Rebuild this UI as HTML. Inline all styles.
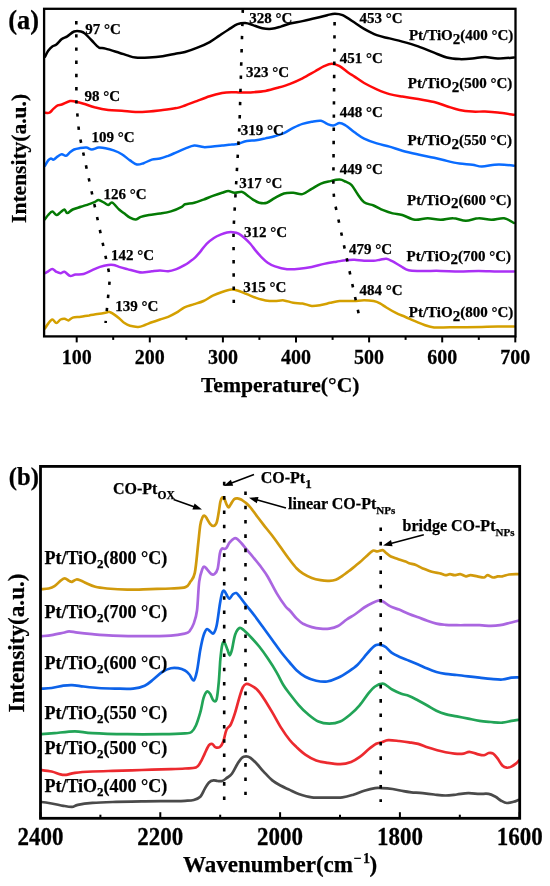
<!DOCTYPE html>
<html><head><meta charset="utf-8"><style>
html,body{margin:0;padding:0;background:#fff;}
svg{display:block;will-change:transform;}
text{font-family:"Liberation Serif",serif;font-weight:bold;fill:#000;stroke:#000;stroke-width:0.25px;}
</style></head><body>
<svg width="550" height="886" viewBox="0 0 550 886">
<rect width="550" height="886" fill="#fff"/>
<text x="8.2" y="28.7" font-size="26.4" text-anchor="start" >(a)</text>
<path d="M44.9,56.8 C45.5,55.8 47.0,52.5 48.2,50.8 C49.4,49.1 50.9,47.5 52.3,46.5 C53.7,45.5 54.8,45.7 56.4,44.5 C58.0,43.3 60.0,40.5 61.8,39.1 C63.6,37.8 65.2,37.7 67.3,36.4 C69.3,35.1 71.8,32.3 74.1,31.5 C76.4,30.7 79.1,31.1 80.9,31.5 C82.7,31.9 83.2,32.1 85.0,33.6 C86.8,35.1 89.5,38.2 91.8,40.5 C94.1,42.8 96.3,45.9 98.6,47.3 C100.9,48.6 102.1,47.7 105.5,48.6 C108.9,49.5 115.5,51.6 119.1,52.7 C122.7,53.8 124.6,54.6 127.3,55.4 C130.0,56.2 131.9,57.2 135.5,57.6 C139.1,58.0 144.6,57.8 149.1,57.6 C153.6,57.4 158.1,57.0 162.7,56.3 C167.2,55.6 172.7,54.2 176.4,53.5 C180.1,52.8 181.5,53.0 185.0,52.0 C188.5,51.0 193.3,49.4 197.4,47.7 C201.5,46.1 206.1,44.1 209.7,42.1 C213.3,40.1 215.9,38.0 219.0,35.9 C222.1,33.8 225.2,31.6 228.3,29.7 C231.4,27.8 234.7,25.3 237.5,24.2 C240.3,23.1 242.7,22.8 245.3,22.9 C247.9,23.0 250.2,24.2 253.0,25.1 C255.8,26.0 259.2,27.6 262.3,28.2 C265.4,28.8 268.5,29.1 271.6,28.8 C274.7,28.5 277.7,27.5 280.8,26.6 C283.9,25.7 286.5,24.4 290.1,23.5 C293.7,22.6 298.4,22.0 302.5,21.1 C306.6,20.2 310.7,19.3 314.8,18.3 C318.9,17.3 323.9,16.0 327.2,15.2 C330.5,14.4 332.3,13.7 334.9,13.7 C337.5,13.7 339.3,13.7 342.6,15.2 C345.9,16.7 350.9,20.2 354.5,22.5 C358.1,24.8 360.4,26.8 364.1,28.9 C367.8,31.0 372.6,33.6 376.8,35.2 C381.0,36.8 385.2,37.3 389.5,38.4 C393.8,39.5 397.5,40.3 402.3,41.6 C407.1,42.9 412.9,44.5 418.2,46.4 C423.5,48.2 429.3,50.9 434.1,52.7 C438.9,54.6 442.6,56.4 446.8,57.5 C451.0,58.6 455.2,58.9 459.5,59.1 C463.8,59.3 468.1,58.9 472.3,58.5 C476.6,58.1 480.8,56.9 485.0,56.9 C489.2,56.9 492.9,58.4 497.7,58.5 C502.5,58.6 511.3,57.7 514.0,57.5" fill="none" stroke="#000000" stroke-width="2.5" stroke-linejoin="round" stroke-linecap="round"/>
<path d="M44.9,112.7 C45.7,112.7 48.0,113.4 49.5,112.7 C51.0,112.0 52.2,109.8 53.6,108.6 C55.0,107.4 56.3,106.1 57.7,105.4 C59.1,104.7 59.8,105.2 61.8,104.5 C63.8,103.8 67.7,101.5 70.0,101.0 C72.3,100.5 73.2,101.3 75.5,101.8 C77.8,102.2 80.4,102.8 83.6,103.7 C86.8,104.6 90.4,106.2 94.5,107.3 C98.6,108.3 103.7,109.4 108.2,110.0 C112.8,110.6 117.2,110.5 121.8,110.8 C126.3,111.1 130.9,111.8 135.5,111.9 C140.1,112.0 144.6,111.7 149.1,111.4 C153.6,111.1 158.1,110.5 162.7,110.0 C167.2,109.5 172.7,108.8 176.4,108.1 C180.1,107.3 181.5,106.7 185.0,105.5 C188.5,104.3 193.3,102.3 197.4,100.8 C201.5,99.2 205.6,97.5 209.7,96.2 C213.8,94.9 218.5,93.8 222.1,93.1 C225.7,92.4 228.3,92.3 231.4,92.2 C234.5,92.1 237.0,92.5 240.6,92.5 C244.2,92.5 248.9,92.5 253.0,92.2 C257.1,91.9 261.3,91.6 265.4,90.9 C269.5,90.2 273.6,89.0 277.7,87.8 C281.8,86.6 286.0,85.4 290.1,83.8 C294.2,82.2 298.4,80.3 302.5,78.3 C306.6,76.2 311.2,73.5 314.8,71.5 C318.4,69.5 321.3,67.5 324.1,66.2 C326.9,64.9 329.2,63.7 331.8,63.7 C334.4,63.7 336.8,64.7 339.6,66.2 C342.4,67.8 346.3,71.3 348.8,73.0 C351.3,74.7 351.9,74.9 354.5,76.6 C357.1,78.3 360.4,80.9 364.1,83.0 C367.8,85.1 372.6,87.5 376.8,89.3 C381.0,91.1 385.2,92.9 389.5,94.1 C393.8,95.3 397.5,95.8 402.3,96.6 C407.1,97.4 412.9,98.0 418.2,98.9 C423.5,99.8 429.3,100.8 434.1,102.0 C438.9,103.2 442.6,104.9 446.8,106.2 C451.0,107.5 455.2,109.1 459.5,110.0 C463.8,110.9 468.1,111.3 472.3,111.6 C476.6,111.9 480.8,111.4 485.0,111.6 C489.2,111.8 492.9,112.0 497.7,112.5 C502.5,113.0 511.3,114.4 514.0,114.8" fill="none" stroke="#ff0a0a" stroke-width="2.5" stroke-linejoin="round" stroke-linecap="round"/>
<path d="M44.9,165.9 C45.5,165.0 47.2,161.6 48.2,160.4 C49.2,159.2 50.0,158.6 50.9,158.5 C51.8,158.4 52.5,159.9 53.6,159.6 C54.7,159.2 56.3,157.3 57.7,156.4 C59.1,155.5 60.4,154.3 61.8,154.2 C63.2,154.1 64.5,156.1 65.9,155.8 C67.3,155.5 68.6,153.4 70.0,152.3 C71.4,151.2 72.5,150.2 74.1,149.5 C75.7,148.8 77.5,148.5 79.5,148.2 C81.5,147.9 84.4,147.4 86.4,147.6 C88.5,147.8 89.8,149.5 91.8,149.5 C93.8,149.5 96.3,147.8 98.6,147.6 C100.9,147.4 103.0,147.7 105.5,148.2 C108.0,148.7 110.9,149.4 113.6,150.4 C116.3,151.4 119.1,152.5 121.8,154.2 C124.5,155.9 127.5,158.7 130.0,160.4 C132.5,162.1 134.5,164.0 136.8,164.5 C139.1,165.0 141.1,164.0 143.6,163.2 C146.1,162.4 149.1,160.4 151.8,159.6 C154.5,158.8 157.3,159.1 160.0,158.5 C162.7,157.9 165.5,156.8 168.2,155.8 C170.9,154.8 173.6,153.5 176.4,152.3 C179.2,151.1 182.0,149.7 185.0,148.6 C188.0,147.5 191.2,145.8 194.3,145.5 C197.4,145.2 200.4,146.9 203.5,147.1 C206.6,147.3 209.7,146.8 212.8,146.5 C215.9,146.2 219.0,145.8 222.1,145.5 C225.2,145.2 228.8,144.8 231.4,144.6 C234.0,144.3 234.9,144.6 237.5,144.0 C240.1,143.4 243.7,141.5 246.8,140.9 C249.9,140.3 253.0,140.7 256.1,140.3 C259.2,139.9 262.3,139.1 265.4,138.4 C268.5,137.7 271.5,137.2 274.6,136.3 C277.7,135.4 280.8,134.6 283.9,133.2 C287.0,131.8 290.1,129.4 293.2,127.9 C296.3,126.4 299.4,124.9 302.5,123.9 C305.6,122.9 308.6,122.2 311.7,121.7 C314.8,121.2 318.4,120.4 321.0,120.8 C323.6,121.2 325.1,123.1 327.2,123.9 C329.3,124.7 331.3,125.7 333.4,125.5 C335.5,125.3 337.6,123.0 339.6,123.0 C341.7,123.0 343.2,124.0 345.7,125.5 C348.2,127.0 351.4,130.1 354.5,132.3 C357.6,134.5 360.4,136.8 364.1,138.6 C367.8,140.4 372.6,142.1 376.8,143.4 C381.0,144.7 385.2,145.4 389.5,146.6 C393.8,147.8 397.5,149.4 402.3,150.7 C407.1,152.0 412.9,153.3 418.2,154.5 C423.5,155.7 429.3,156.6 434.1,157.7 C438.9,158.8 442.6,159.9 446.8,160.9 C451.0,161.9 455.2,162.9 459.5,163.5 C463.8,164.1 468.6,164.2 472.3,164.7 C476.0,165.2 478.1,166.6 481.8,166.6 C485.5,166.6 490.8,165.0 494.5,164.7 C498.2,164.4 500.9,164.5 504.1,164.7 C507.4,164.9 512.4,165.5 514.0,165.7" fill="none" stroke="#0a6cff" stroke-width="2.5" stroke-linejoin="round" stroke-linecap="round"/>
<path d="M44.9,219.1 C45.5,218.4 47.0,216.3 48.2,215.0 C49.4,213.7 50.9,211.4 52.3,211.4 C53.7,211.4 55.0,214.8 56.4,215.0 C57.8,215.2 59.1,213.2 60.5,212.3 C61.9,211.4 63.4,209.4 64.5,209.5 C65.6,209.6 65.9,213.1 67.3,213.1 C68.7,213.1 70.4,210.6 72.7,209.5 C75.0,208.4 78.2,207.7 80.9,206.8 C83.6,205.9 86.8,204.9 89.1,204.1 C91.4,203.3 92.9,202.9 94.5,202.2 C96.1,201.5 97.0,199.9 98.6,200.0 C100.2,200.1 102.5,201.9 104.1,202.7 C105.7,203.5 106.8,204.9 108.2,204.9 C109.6,204.9 110.5,201.9 112.3,202.7 C114.1,203.5 117.1,207.7 119.1,209.5 C121.1,211.3 122.7,212.2 124.5,213.6 C126.3,215.0 128.2,216.7 130.0,217.7 C131.8,218.7 133.7,219.7 135.5,219.6 C137.3,219.5 138.6,217.7 140.9,216.9 C143.2,216.1 145.9,215.6 149.1,215.0 C152.3,214.4 156.4,214.2 160.0,213.6 C163.6,213.0 167.3,212.5 170.9,211.4 C174.5,210.3 179.5,208.0 181.8,206.8 C184.2,205.6 182.9,205.0 185.0,204.3 C187.1,203.6 191.2,203.5 194.3,202.7 C197.4,201.9 200.4,200.7 203.5,199.6 C206.6,198.5 209.7,197.0 212.8,195.9 C215.9,194.8 219.5,193.6 222.1,192.8 C224.7,192.0 226.2,191.0 228.3,191.0 C230.4,191.0 232.2,192.7 234.5,192.8 C236.8,193.0 240.1,191.5 242.2,191.9 C244.2,192.3 245.0,193.7 246.8,195.0 C248.6,196.3 250.9,198.3 253.0,199.6 C255.1,200.9 256.9,202.2 259.2,202.7 C261.5,203.2 264.3,203.5 266.9,202.7 C269.5,201.9 271.8,199.6 274.6,198.1 C277.4,196.6 280.8,194.4 283.9,193.5 C287.0,192.6 290.1,192.7 293.2,192.8 C296.3,192.9 299.4,194.8 302.5,194.1 C305.6,193.4 308.6,190.6 311.7,188.8 C314.8,187.1 317.9,184.9 321.0,183.6 C324.1,182.3 327.2,181.8 330.3,181.1 C333.4,180.4 337.0,179.5 339.6,179.6 C342.2,179.7 343.7,180.8 345.7,181.7 C347.7,182.6 349.4,182.7 351.4,184.8 C353.4,186.9 355.6,191.4 357.7,194.3 C359.8,197.2 361.5,200.4 364.1,202.3 C366.8,204.2 370.4,204.2 373.6,205.5 C376.8,206.8 380.0,208.9 383.2,210.2 C386.4,211.5 389.5,212.6 392.7,213.4 C395.9,214.2 398.6,213.9 402.3,215.0 C406.0,216.1 410.8,219.3 415.0,219.8 C419.2,220.3 423.4,218.2 427.7,218.2 C431.9,218.2 436.2,219.8 440.5,219.8 C444.8,219.8 449.0,218.0 453.2,218.2 C457.4,218.3 461.7,220.7 465.9,220.7 C470.1,220.7 474.4,218.3 478.6,218.2 C482.9,218.0 487.1,219.8 491.4,219.8 C495.6,219.8 500.3,217.7 504.1,218.2 C507.9,218.7 512.4,222.2 514.0,223.0" fill="none" stroke="#047a04" stroke-width="2.5" stroke-linejoin="round" stroke-linecap="round"/>
<path d="M44.9,273.2 C45.5,272.9 47.0,272.0 48.2,271.3 C49.4,270.6 50.9,269.0 52.3,269.1 C53.7,269.2 55.0,271.1 56.4,271.8 C57.8,272.5 59.1,273.2 60.5,273.2 C61.9,273.2 62.9,271.4 64.5,271.8 C66.1,272.2 68.2,275.4 70.0,275.9 C71.8,276.3 73.2,274.8 75.5,274.5 C77.8,274.2 80.9,274.7 83.6,274.0 C86.3,273.3 89.1,271.6 91.8,270.4 C94.5,269.2 97.3,267.8 100.0,266.9 C102.7,266.0 105.9,265.3 108.2,265.0 C110.5,264.7 111.8,264.7 113.6,265.0 C115.4,265.3 116.8,266.2 119.1,266.9 C121.4,267.6 124.6,268.4 127.3,269.1 C130.0,269.8 133.0,270.7 135.5,271.3 C138.0,271.9 139.6,272.6 142.3,272.6 C145.0,272.6 148.9,271.7 151.8,271.3 C154.8,270.9 157.3,270.4 160.0,270.4 C162.7,270.4 165.5,271.5 168.2,271.3 C170.9,271.1 173.7,270.1 176.4,269.1 C179.1,268.1 182.2,266.5 184.5,265.2 C186.8,263.9 188.2,262.8 190.0,261.5 C191.8,260.2 193.2,259.3 195.0,257.6 C196.8,255.9 198.9,253.4 200.8,251.1 C202.7,248.8 204.4,246.0 206.6,243.8 C208.8,241.6 211.5,239.6 213.9,238.0 C216.3,236.4 219.0,235.3 221.2,234.4 C223.4,233.5 225.1,232.9 227.0,232.5 C228.9,232.1 230.9,232.0 232.8,232.2 C234.7,232.4 236.7,232.6 238.6,233.6 C240.5,234.6 242.6,236.3 244.5,238.0 C246.4,239.7 248.4,241.6 250.3,243.8 C252.2,246.0 254.2,248.8 256.1,251.1 C258.0,253.4 260.0,255.7 261.9,257.6 C263.8,259.5 265.5,261.2 267.7,262.7 C269.9,264.2 271.8,265.3 275.0,266.4 C278.2,267.5 282.9,268.8 287.0,269.2 C291.1,269.6 295.3,269.2 299.4,268.8 C303.5,268.4 307.6,267.8 311.7,267.0 C315.8,266.2 320.0,264.8 324.1,263.9 C328.2,263.0 332.9,262.3 336.5,261.7 C340.1,261.1 342.7,260.5 345.7,260.2 C348.7,259.9 351.4,259.7 354.5,259.8 C357.6,259.9 360.9,260.6 364.1,260.7 C367.3,260.8 371.0,260.8 373.6,260.7 C376.2,260.6 377.9,260.1 380.0,259.8 C382.1,259.5 384.3,258.5 386.4,258.8 C388.5,259.1 390.3,260.2 392.7,261.4 C395.1,262.6 398.0,264.6 400.7,266.1 C403.4,267.6 405.2,269.5 408.6,270.3 C412.1,271.1 416.1,270.8 421.4,270.9 C426.7,271.0 434.1,270.8 440.5,270.9 C446.9,271.0 453.1,271.5 459.5,271.5 C465.9,271.5 472.2,270.9 478.6,270.9 C485.0,270.9 491.8,271.4 497.7,271.5 C503.6,271.6 511.3,271.5 514.0,271.5" fill="none" stroke="#aa30f5" stroke-width="2.5" stroke-linejoin="round" stroke-linecap="round"/>
<path d="M44.9,328.5 C45.5,327.7 47.0,325.1 48.2,323.6 C49.4,322.1 50.9,319.6 52.3,319.5 C53.7,319.4 55.0,323.1 56.4,323.1 C57.8,323.1 59.1,320.2 60.5,319.5 C61.9,318.8 63.1,318.6 64.5,318.7 C65.8,318.8 67.2,320.6 68.6,320.4 C70.0,320.2 70.7,318.2 72.7,317.6 C74.8,317.0 78.2,317.2 80.9,316.8 C83.6,316.4 86.4,315.8 89.1,315.4 C91.8,314.9 94.6,314.6 97.3,314.1 C100.0,313.7 103.5,313.1 105.5,312.7 C107.5,312.3 108.2,311.7 109.5,311.9 C110.8,312.1 112.0,313.1 113.6,314.1 C115.2,315.2 117.3,316.7 119.1,318.2 C120.9,319.7 122.7,321.8 124.5,323.1 C126.3,324.4 127.7,325.2 130.0,325.8 C132.3,326.4 135.7,327.0 138.2,326.9 C140.7,326.8 142.7,325.8 145.0,325.0 C147.3,324.2 149.3,323.2 151.8,322.3 C154.3,321.4 157.3,320.4 160.0,319.5 C162.7,318.6 165.5,317.9 168.2,316.8 C170.9,315.7 173.7,314.3 176.4,312.7 C179.1,311.1 181.5,308.7 184.5,307.3 C187.5,305.9 191.1,305.2 194.3,304.1 C197.5,303.1 200.4,302.4 203.5,301.0 C206.6,299.6 209.7,297.2 212.8,295.7 C215.9,294.2 219.0,293.0 222.1,292.0 C225.2,291.0 228.8,289.9 231.4,289.6 C234.0,289.4 234.9,289.7 237.5,290.5 C240.1,291.3 243.7,293.0 246.8,294.2 C249.9,295.4 253.0,296.9 256.1,297.9 C259.2,298.9 262.3,299.9 265.4,300.4 C268.5,300.9 271.5,301.0 274.6,301.0 C277.7,301.0 280.8,300.1 283.9,300.4 C287.0,300.7 290.1,302.3 293.2,302.8 C296.3,303.3 299.4,303.0 302.5,303.5 C305.6,304.0 308.6,305.6 311.7,305.9 C314.8,306.1 317.9,305.5 321.0,305.0 C324.1,304.5 327.2,303.5 330.3,302.8 C333.4,302.1 336.5,301.3 339.6,301.0 C342.7,300.7 346.3,301.0 348.8,301.0 C351.3,301.0 351.9,301.2 354.5,301.1 C357.1,301.0 360.9,300.2 364.1,300.2 C367.3,300.2 371.0,300.6 373.6,301.1 C376.2,301.6 377.9,302.3 380.0,303.4 C382.1,304.5 383.8,305.9 386.4,307.5 C389.0,309.1 392.7,311.3 395.9,312.9 C399.1,314.5 402.3,315.6 405.5,317.0 C408.7,318.4 411.8,319.9 415.0,321.2 C418.2,322.5 421.3,323.9 424.5,325.0 C427.7,326.1 429.9,327.1 434.1,327.5 C438.4,327.9 444.7,327.2 450.0,327.2 C455.3,327.1 460.6,327.2 465.9,327.2 C471.2,327.1 476.5,327.0 481.8,326.9 C487.1,326.8 492.3,326.7 497.7,326.6 C503.1,326.6 511.3,326.6 514.0,326.6" fill="none" stroke="#d4a000" stroke-width="2.5" stroke-linejoin="round" stroke-linecap="round"/>
<path d="M76.3,21.0 L76.4,104.0 L79.2,134.0 L110.0,277.0 L105.6,323.0" fill="none" stroke="#000" stroke-width="2.6" stroke-dasharray="3.4 9.8" stroke-dashoffset="0"/>
<path d="M242.8,9.5 L239.5,125.0 L233.5,230.0 L233.8,308.0" fill="none" stroke="#000" stroke-width="2.6" stroke-dasharray="3.4 9.8" stroke-dashoffset="0"/>
<path d="M334.6,22.0 L333.3,188.0 L334.2,200.0 L359.8,319.0" fill="none" stroke="#000" stroke-width="2.6" stroke-dasharray="3.4 9.8" stroke-dashoffset="0"/>
<rect x="44.1" y="8.8" width="471.4" height="327.6" fill="none" stroke="#000" stroke-width="2.3"/>
<line x1="76.7" y1="336.4" x2="76.7" y2="342.4" stroke="#000" stroke-width="2"/>
<text x="0.0" y="0.0" font-size="20" text-anchor="middle" transform="translate(76.7,364.2) scale(1,1.09)">100</text>
<line x1="149.8" y1="336.4" x2="149.8" y2="342.4" stroke="#000" stroke-width="2"/>
<text x="0.0" y="0.0" font-size="20" text-anchor="middle" transform="translate(149.8,364.2) scale(1,1.09)">200</text>
<line x1="222.9" y1="336.4" x2="222.9" y2="342.4" stroke="#000" stroke-width="2"/>
<text x="0.0" y="0.0" font-size="20" text-anchor="middle" transform="translate(222.9,364.2) scale(1,1.09)">300</text>
<line x1="296.0" y1="336.4" x2="296.0" y2="342.4" stroke="#000" stroke-width="2"/>
<text x="0.0" y="0.0" font-size="20" text-anchor="middle" transform="translate(296.0,364.2) scale(1,1.09)">400</text>
<line x1="369.1" y1="336.4" x2="369.1" y2="342.4" stroke="#000" stroke-width="2"/>
<text x="0.0" y="0.0" font-size="20" text-anchor="middle" transform="translate(369.1,364.2) scale(1,1.09)">500</text>
<line x1="442.2" y1="336.4" x2="442.2" y2="342.4" stroke="#000" stroke-width="2"/>
<text x="0.0" y="0.0" font-size="20" text-anchor="middle" transform="translate(442.2,364.2) scale(1,1.09)">600</text>
<line x1="515.3" y1="336.4" x2="515.3" y2="342.4" stroke="#000" stroke-width="2"/>
<text x="0.0" y="0.0" font-size="20" text-anchor="middle" transform="translate(515.3,364.2) scale(1,1.09)">700</text>
<line x1="113.2" y1="336.4" x2="113.2" y2="339.9" stroke="#000" stroke-width="2"/>
<line x1="186.3" y1="336.4" x2="186.3" y2="339.9" stroke="#000" stroke-width="2"/>
<line x1="259.4" y1="336.4" x2="259.4" y2="339.9" stroke="#000" stroke-width="2"/>
<line x1="332.6" y1="336.4" x2="332.6" y2="339.9" stroke="#000" stroke-width="2"/>
<line x1="405.6" y1="336.4" x2="405.6" y2="339.9" stroke="#000" stroke-width="2"/>
<line x1="478.8" y1="336.4" x2="478.8" y2="339.9" stroke="#000" stroke-width="2"/>
<text x="280.2" y="392.3" font-size="21.6" text-anchor="middle" >Temperature(°C)</text>
<text x="0.0" y="0.0" font-size="21.5" text-anchor="middle" transform="translate(26.0,158.4) rotate(-90)">Intensity(a.u.)</text>
<text x="85.2" y="34.1" font-size="15" text-anchor="start" >97 °C</text>
<text x="84.4" y="100.9" font-size="15" text-anchor="start" >98 °C</text>
<text x="91.5" y="141.9" font-size="15" text-anchor="start" >109 °C</text>
<text x="103.5" y="199.1" font-size="15" text-anchor="start" >126 °C</text>
<text x="111.1" y="259.5" font-size="15" text-anchor="start" >142 °C</text>
<text x="115.2" y="310.5" font-size="15" text-anchor="start" >139 °C</text>
<text x="249.2" y="22.5" font-size="15" text-anchor="start" >328 °C</text>
<text x="246.1" y="76.6" font-size="15" text-anchor="start" >323 °C</text>
<text x="240.8" y="134.6" font-size="15" text-anchor="start" >319 °C</text>
<text x="239.3" y="187.8" font-size="15" text-anchor="start" >317 °C</text>
<text x="243.9" y="236.6" font-size="15" text-anchor="start" >312 °C</text>
<text x="243.3" y="291.6" font-size="15" text-anchor="start" >315 °C</text>
<text x="359.5" y="23.0" font-size="15" text-anchor="start" >453 °C</text>
<text x="339.8" y="63.4" font-size="15" text-anchor="start" >451 °C</text>
<text x="339.8" y="117.0" font-size="15" text-anchor="start" >448 °C</text>
<text x="339.8" y="173.5" font-size="15" text-anchor="start" >449 °C</text>
<text x="349.0" y="253.9" font-size="15" text-anchor="start" >479 °C</text>
<text x="359.5" y="295.3" font-size="15" text-anchor="start" >484 °C</text>
<text x="408.9" y="39.9" font-size="15">Pt/TiO<tspan dy="3.6">2</tspan><tspan dy="-3.6">(400 °C)</tspan></text>
<text x="407.8" y="88.4" font-size="15">Pt/TiO<tspan dy="3.6">2</tspan><tspan dy="-3.6">(500 °C)</tspan></text>
<text x="407.6" y="145.0" font-size="15">Pt/TiO<tspan dy="3.6">2</tspan><tspan dy="-3.6">(550 °C)</tspan></text>
<text x="407.0" y="204.7" font-size="15">Pt/TiO<tspan dy="3.6">2</tspan><tspan dy="-3.6">(600 °C)</tspan></text>
<text x="406.6" y="260.7" font-size="15">Pt/TiO<tspan dy="3.6">2</tspan><tspan dy="-3.6">(700 °C)</tspan></text>
<text x="408.8" y="317.3" font-size="15">Pt/TiO<tspan dy="3.6">2</tspan><tspan dy="-3.6">(800 °C)</tspan></text>
<text x="8.8" y="484.5" font-size="24.6" text-anchor="start" >(b)</text>
<path d="M41.5,589.1 C42.7,589.0 46.5,589.0 48.7,588.5 C50.9,588.0 52.5,587.5 54.5,586.2 C56.5,584.9 58.7,582.2 60.4,580.9 C62.1,579.6 63.2,578.3 64.7,578.3 C66.2,578.3 67.9,580.3 69.1,580.9 C70.3,581.5 70.8,582.0 72.0,581.8 C73.2,581.6 75.0,579.7 76.4,579.5 C77.9,579.3 79.0,579.8 80.7,580.4 C82.4,581.0 84.1,582.2 86.5,583.3 C88.9,584.4 91.9,585.9 95.3,586.8 C98.7,587.7 101.6,588.0 106.9,588.5 C112.2,589.0 120.0,589.6 127.3,589.7 C134.6,589.8 143.2,589.3 150.5,589.1 C157.8,588.9 165.1,588.8 170.9,588.5 C176.7,588.2 182.2,588.2 185.5,587.1 C188.8,586.0 188.9,584.0 190.5,581.6 C192.1,579.2 193.5,579.1 194.8,572.9 C196.1,566.7 197.2,552.5 198.1,544.5 C199.0,536.5 199.6,529.4 200.3,524.9 C201.0,520.4 201.8,518.8 202.5,517.3 C203.2,515.8 203.9,515.5 204.6,515.7 C205.3,515.9 205.9,517.0 206.8,518.4 C207.7,519.8 209.0,522.5 210.1,523.8 C211.2,525.1 212.3,526.2 213.4,526.0 C214.5,525.8 215.7,525.1 216.6,522.7 C217.5,520.3 218.2,515.2 218.8,511.8 C219.4,508.4 219.8,504.4 220.3,502.0 C220.9,499.6 221.4,498.2 222.1,497.6 C222.8,497.1 223.6,497.6 224.3,498.7 C225.0,499.8 225.8,502.7 226.5,504.2 C227.2,505.7 227.9,507.5 228.6,507.5 C229.3,507.5 229.9,505.6 230.8,504.2 C231.7,502.8 233.0,500.2 234.1,499.2 C235.2,498.2 236.1,498.2 237.4,498.3 C238.7,498.4 240.2,499.0 241.7,499.8 C243.1,500.6 244.6,501.8 246.1,503.1 C247.6,504.4 248.7,505.3 250.5,507.5 C252.3,509.7 254.8,513.3 257.0,516.2 C259.2,519.1 261.1,521.6 263.6,524.9 C266.2,528.2 269.4,532.0 272.3,535.8 C275.2,539.6 278.1,543.8 281.0,547.8 C283.9,551.8 287.1,556.4 289.7,559.8 C292.3,563.2 294.3,565.9 296.5,568.2 C298.7,570.5 300.6,572.0 303.1,573.6 C305.7,575.2 308.9,576.9 311.8,578.0 C314.7,579.1 317.6,579.7 320.5,580.2 C323.4,580.7 326.8,580.9 329.3,580.8 C331.9,580.7 333.6,580.5 335.8,579.7 C338.0,578.9 339.8,577.5 342.4,575.8 C344.9,574.1 348.2,571.5 351.1,569.3 C354.0,567.0 357.2,564.5 359.8,562.3 C362.4,560.1 364.2,558.1 366.4,556.2 C368.6,554.3 371.1,551.5 372.9,550.7 C374.7,549.9 375.7,551.5 377.3,551.4 C378.9,551.3 381.2,549.9 382.7,550.1 C384.1,550.4 384.7,551.9 386.0,552.9 C387.3,553.9 388.2,555.1 390.4,556.2 C392.6,557.3 396.6,558.6 399.1,559.5 C401.6,560.4 403.9,561.0 405.6,561.6 C407.3,562.2 407.4,562.6 409.1,563.2 C410.8,563.8 413.6,564.1 415.9,565.0 C418.2,565.9 420.0,567.3 422.7,568.4 C425.4,569.5 428.8,570.9 431.8,571.8 C434.8,572.7 438.6,573.0 440.9,573.6 C443.2,574.2 444.0,575.1 445.5,575.2 C447.0,575.3 448.5,574.1 450.0,574.1 C451.5,574.1 452.8,575.2 454.5,575.2 C456.2,575.2 458.3,573.9 460.2,574.1 C462.1,574.3 464.2,576.2 465.9,576.4 C467.6,576.6 468.6,575.2 470.5,575.2 C472.4,575.2 475.0,576.0 477.3,576.4 C479.6,576.8 482.4,577.7 484.1,577.5 C485.8,577.3 486.0,575.2 487.5,575.2 C489.0,575.2 491.5,577.3 493.2,577.5 C494.9,577.7 496.2,576.6 497.7,576.4 C499.2,576.2 500.4,576.7 502.3,576.4 C504.2,576.1 506.5,574.9 509.1,574.5 C511.8,574.1 516.7,574.2 518.2,574.1" fill="none" stroke="#d19a0c" stroke-width="2.7" stroke-linejoin="round" stroke-linecap="round"/>
<path d="M41.5,636.2 C43.2,636.0 48.0,635.7 51.6,635.1 C55.2,634.5 60.4,633.3 63.3,632.7 C66.2,632.1 66.7,631.3 69.1,631.3 C71.5,631.3 73.9,632.2 77.8,632.7 C81.7,633.2 86.6,633.7 92.4,634.2 C98.2,634.7 104.5,635.3 112.7,635.6 C120.9,635.9 132.1,636.2 141.8,636.2 C151.5,636.2 163.7,636.1 170.9,635.6 C178.1,635.1 181.9,634.2 185.0,633.5 C188.1,632.8 188.0,632.9 189.4,631.3 C190.8,629.6 192.4,627.1 193.7,623.6 C195.0,620.1 196.1,617.5 197.0,610.5 C197.9,603.5 198.3,588.6 199.2,581.6 C200.1,574.6 201.6,571.1 202.5,568.6 C203.4,566.1 203.9,566.7 204.6,566.8 C205.3,566.9 205.7,567.8 206.8,569.0 C207.9,570.2 209.9,573.2 211.2,574.0 C212.5,574.8 213.4,574.9 214.5,574.0 C215.6,573.1 216.8,572.1 217.7,568.6 C218.6,565.1 219.2,556.6 219.9,553.3 C220.6,549.9 221.4,549.2 222.1,548.5 C222.8,547.8 223.6,549.0 224.3,548.9 C225.0,548.8 225.6,548.9 226.5,547.8 C227.4,546.7 228.4,544.0 229.7,542.4 C231.0,540.8 232.8,538.9 234.1,538.4 C235.4,537.9 236.1,538.2 237.4,539.1 C238.7,540.0 240.2,541.9 241.7,543.5 C243.1,545.1 244.3,546.7 246.1,548.9 C247.9,551.1 250.1,553.4 252.6,556.5 C255.1,559.6 258.8,564.1 261.4,567.5 C263.9,570.9 265.4,572.7 267.9,577.0 C270.4,581.3 273.7,588.2 276.6,593.1 C279.5,598.0 283.2,603.3 285.4,606.2 C287.6,609.1 288.1,608.7 290.0,610.7 C291.9,612.7 294.3,616.2 296.5,618.4 C298.7,620.6 300.6,622.3 303.1,623.8 C305.7,625.2 308.9,626.3 311.8,627.1 C314.7,627.9 317.6,628.4 320.5,628.6 C323.4,628.9 326.4,629.0 329.3,628.6 C332.2,628.2 335.1,627.5 338.0,626.0 C340.9,624.5 343.8,621.5 346.7,619.5 C349.6,617.5 352.6,616.0 355.5,614.0 C358.4,612.0 361.3,609.4 364.2,607.5 C367.1,605.6 370.3,603.9 372.9,602.7 C375.4,601.5 377.7,600.4 379.5,600.3 C381.3,600.2 382.0,601.0 383.8,602.0 C385.6,603.0 387.8,605.1 390.4,606.4 C392.9,607.7 396.0,608.4 399.1,609.6 C402.2,610.9 405.9,612.6 409.1,613.9 C412.3,615.2 415.2,616.2 418.2,617.3 C421.2,618.4 424.3,619.7 427.3,620.7 C430.3,621.8 433.4,622.9 436.4,623.6 C439.4,624.3 442.1,624.5 445.5,624.8 C448.9,625.1 453.0,625.1 456.8,625.2 C460.6,625.3 464.4,625.2 468.2,625.2 C472.0,625.2 475.7,625.1 479.5,625.2 C483.3,625.3 487.5,625.9 490.9,625.9 C494.3,625.9 497.0,625.7 500.0,625.2 C503.0,624.7 506.1,623.8 509.1,623.0 C512.1,622.2 516.7,621.1 518.2,620.7" fill="none" stroke="#aa66e0" stroke-width="2.7" stroke-linejoin="round" stroke-linecap="round"/>
<path d="M41.5,688.6 C43.2,688.5 48.0,688.5 51.6,688.0 C55.2,687.5 59.9,686.2 63.3,685.7 C66.7,685.2 68.6,685.0 72.0,685.1 C75.4,685.2 79.2,686.0 83.6,686.5 C88.0,687.0 92.9,687.6 98.2,688.0 C103.5,688.4 109.8,688.5 115.6,688.6 C121.4,688.7 128.2,689.1 133.1,688.6 C137.9,688.1 141.3,687.2 144.7,685.7 C148.1,684.2 150.6,681.6 153.5,679.3 C156.4,677.0 159.3,673.9 162.2,672.0 C165.1,670.1 168.2,668.8 170.9,668.2 C173.6,667.6 175.8,667.8 178.2,668.2 C180.5,668.6 183.1,669.5 185.0,670.5 C186.9,671.5 188.0,672.8 189.4,674.5 C190.8,676.2 192.4,681.1 193.7,680.5 C195.0,679.9 195.9,676.0 197.0,670.9 C198.1,665.8 199.2,655.7 200.3,649.8 C201.4,643.9 202.4,639.0 203.5,635.6 C204.6,632.2 205.7,629.8 206.8,629.1 C207.9,628.4 209.0,630.6 210.1,631.3 C211.2,632.0 212.3,634.4 213.4,633.5 C214.5,632.6 215.5,630.7 216.6,625.8 C217.7,620.9 219.0,609.5 219.9,604.0 C220.8,598.5 221.4,595.3 222.1,593.1 C222.8,590.9 223.4,590.4 224.3,590.9 C225.2,591.4 226.6,595.1 227.5,596.4 C228.4,597.7 228.8,598.9 229.7,598.5 C230.6,598.1 231.9,595.1 233.0,594.2 C234.1,593.3 235.2,592.7 236.3,593.1 C237.4,593.5 237.9,594.4 239.5,596.4 C241.1,598.4 243.5,601.8 246.1,605.1 C248.7,608.4 251.9,612.2 254.8,616.0 C257.7,619.8 260.7,624.0 263.6,628.0 C266.5,632.0 269.4,636.0 272.3,640.0 C275.2,644.0 278.1,648.2 281.0,652.0 C283.9,655.8 287.1,659.5 289.7,662.5 C292.3,665.5 293.9,667.8 296.5,670.2 C299.1,672.6 302.0,675.0 305.3,676.7 C308.6,678.5 312.6,679.9 316.2,680.7 C319.8,681.5 323.5,682.0 327.1,681.5 C330.7,681.0 334.4,679.5 338.0,677.8 C341.6,676.1 345.6,673.5 348.9,671.3 C352.2,669.1 355.1,667.1 357.6,664.7 C360.2,662.3 362.0,659.6 364.2,657.1 C366.4,654.6 368.7,651.5 370.7,649.5 C372.7,647.5 374.4,645.8 376.2,645.1 C378.0,644.4 380.0,644.7 381.6,645.1 C383.2,645.5 384.4,646.0 386.0,647.3 C387.6,648.6 389.3,651.1 391.5,652.7 C393.7,654.3 396.2,655.4 399.1,656.7 C402.0,658.0 405.9,659.4 409.1,660.7 C412.3,662.0 415.2,663.2 418.2,664.5 C421.2,665.8 424.3,667.4 427.3,668.6 C430.3,669.9 433.4,671.1 436.4,672.0 C439.4,672.9 442.1,673.4 445.5,673.9 C448.9,674.4 453.0,674.6 456.8,675.0 C460.6,675.4 464.4,675.9 468.2,676.4 C472.0,676.9 475.7,677.3 479.5,677.7 C483.3,678.1 487.1,678.6 490.9,678.9 C494.7,679.2 498.9,679.7 502.3,679.5 C505.7,679.3 508.8,678.1 511.4,677.7 C514.0,677.3 517.1,677.4 518.2,677.3" fill="none" stroke="#0d62e8" stroke-width="2.7" stroke-linejoin="round" stroke-linecap="round"/>
<path d="M41.5,734.2 C43.7,734.0 48.9,733.6 54.5,733.1 C60.1,732.6 68.6,731.3 74.9,731.3 C81.2,731.3 83.7,732.6 92.4,733.1 C101.1,733.6 115.7,734.0 127.3,734.2 C138.9,734.4 152.6,734.3 162.2,734.2 C171.8,734.1 180.1,733.8 185.0,733.4 C189.9,733.0 189.7,733.3 191.5,732.0 C193.3,730.7 194.4,728.8 195.9,725.5 C197.4,722.2 199.0,716.9 200.3,712.4 C201.6,707.9 202.4,701.7 203.5,698.2 C204.6,694.7 205.7,692.3 206.8,691.6 C207.9,690.9 209.0,692.3 210.1,693.8 C211.2,695.3 212.3,699.5 213.4,700.4 C214.5,701.3 215.7,702.4 216.6,699.3 C217.5,696.2 218.2,688.3 218.8,681.8 C219.4,675.2 219.8,666.0 220.3,660.0 C220.9,654.0 221.4,648.5 222.1,645.5 C222.8,642.5 223.4,641.5 224.3,642.2 C225.2,642.9 226.6,647.6 227.5,649.8 C228.4,652.0 229.0,655.3 229.7,655.3 C230.4,655.3 231.0,653.3 231.9,649.8 C232.8,646.3 233.9,638.1 235.2,634.5 C236.5,630.9 238.1,628.7 239.5,628.0 C240.9,627.3 242.1,628.8 243.9,630.2 C245.7,631.7 247.9,634.0 250.5,636.7 C253.1,639.4 256.3,642.9 259.2,646.5 C262.1,650.1 265.0,654.2 267.9,658.5 C270.8,662.8 274.1,667.9 276.6,672.3 C279.2,676.7 281.0,681.1 283.2,684.7 C285.4,688.4 287.4,690.8 290.0,694.2 C292.6,697.6 295.8,701.8 298.7,705.1 C301.6,708.4 304.2,711.1 307.5,713.8 C310.8,716.5 314.8,719.9 318.4,721.5 C322.0,723.1 325.7,723.6 329.3,723.6 C332.9,723.6 336.6,723.1 340.2,721.5 C343.8,719.9 347.8,716.5 351.1,713.8 C354.4,711.1 356.9,708.5 359.8,705.1 C362.7,701.7 366.1,696.2 368.6,693.1 C371.2,690.0 372.8,688.1 375.1,686.5 C377.5,684.9 380.7,683.8 382.7,683.7 C384.7,683.6 385.5,684.9 387.1,685.9 C388.8,686.9 390.2,688.5 392.6,689.8 C395.0,691.1 398.6,692.8 401.3,693.8 C404.1,694.8 406.3,694.8 409.1,695.9 C411.9,697.0 415.2,698.9 418.2,700.5 C421.2,702.1 424.3,703.8 427.3,705.5 C430.3,707.2 433.4,709.3 436.4,710.7 C439.4,712.1 442.1,713.2 445.5,714.1 C448.9,715.0 453.0,715.6 456.8,716.4 C460.6,717.1 464.4,717.9 468.2,718.6 C472.0,719.4 475.7,720.3 479.5,720.9 C483.3,721.5 487.1,721.7 490.9,722.0 C494.7,722.3 498.9,722.9 502.3,722.7 C505.7,722.5 508.8,721.4 511.4,720.9 C514.0,720.4 517.1,720.0 518.2,719.8" fill="none" stroke="#22a457" stroke-width="2.7" stroke-linejoin="round" stroke-linecap="round"/>
<path d="M41.5,770.0 C43.2,770.2 48.5,770.8 51.6,771.5 C54.8,772.2 58.0,773.8 60.4,774.4 C62.8,775.0 63.8,775.1 66.2,774.9 C68.6,774.6 70.5,773.5 74.9,772.9 C79.3,772.3 86.1,771.8 92.4,771.5 C98.7,771.2 104.5,771.1 112.7,770.9 C120.9,770.6 132.1,770.3 141.8,770.0 C151.5,769.7 163.7,769.4 170.9,769.1 C178.1,768.9 180.8,768.8 185.0,768.5 C189.2,768.2 193.3,768.5 195.9,767.5 C198.5,766.5 198.9,764.9 200.3,762.6 C201.8,760.3 203.2,756.7 204.6,753.8 C206.0,750.9 207.7,746.7 209.0,745.1 C210.3,743.5 211.2,743.6 212.3,744.0 C213.4,744.4 214.2,746.8 215.5,747.3 C216.8,747.8 218.6,747.9 219.9,747.0 C221.2,746.1 222.1,744.7 223.2,741.8 C224.3,738.9 225.2,732.7 226.5,729.8 C227.8,726.9 229.4,727.3 230.8,724.4 C232.2,721.5 233.8,716.9 235.2,712.4 C236.6,707.9 238.2,701.3 239.5,697.1 C240.8,692.9 241.7,689.5 242.8,687.3 C243.9,685.1 244.8,684.4 246.1,684.0 C247.4,683.6 248.7,684.2 250.5,685.1 C252.3,686.0 254.8,687.3 257.0,689.5 C259.2,691.7 261.1,694.4 263.6,698.2 C266.2,702.0 269.4,707.5 272.3,712.4 C275.2,717.3 278.1,723.0 281.0,727.6 C283.9,732.2 287.1,736.8 289.7,740.0 C292.3,743.2 293.9,744.6 296.5,747.1 C299.1,749.6 302.0,752.5 305.3,754.7 C308.6,757.0 312.6,759.2 316.2,760.6 C319.8,762.0 323.1,762.2 327.1,762.8 C331.1,763.4 336.2,764.2 340.2,764.1 C344.2,764.0 347.8,763.1 351.1,761.9 C354.4,760.7 356.9,759.0 359.8,756.9 C362.7,754.8 365.9,751.5 368.6,749.3 C371.3,747.1 374.0,745.0 376.2,743.8 C378.4,742.6 379.6,742.9 381.6,742.3 C383.6,741.7 385.3,740.3 388.2,740.1 C391.1,739.9 395.6,740.6 399.1,741.0 C402.6,741.4 405.9,741.8 409.1,742.3 C412.3,742.8 415.2,743.1 418.2,743.9 C421.2,744.7 424.3,746.3 427.3,747.3 C430.3,748.3 433.4,749.2 436.4,750.0 C439.4,750.8 442.5,751.7 445.5,752.3 C448.5,752.9 451.5,753.4 454.5,753.6 C457.5,753.8 461.1,753.9 463.6,753.6 C466.1,753.3 467.0,751.7 469.3,751.8 C471.6,751.9 474.8,753.5 477.3,754.1 C479.8,754.7 482.2,755.4 484.1,755.2 C486.0,755.0 487.1,753.3 488.6,753.0 C490.1,752.7 491.7,752.7 493.2,753.6 C494.7,754.5 496.2,756.6 497.7,758.6 C499.2,760.6 500.8,764.0 502.3,765.5 C503.8,767.0 505.3,767.5 506.8,767.7 C508.3,767.9 509.9,767.3 511.4,766.6 C512.9,765.9 514.6,764.6 515.9,763.6 C517.2,762.6 518.5,761.0 519.0,760.5" fill="none" stroke="#ec2a2f" stroke-width="2.7" stroke-linejoin="round" stroke-linecap="round"/>
<path d="M41.5,802.0 C43.2,802.2 48.0,802.9 51.6,803.5 C55.2,804.1 59.9,805.2 63.3,805.8 C66.7,806.4 69.6,807.0 72.0,806.9 C74.4,806.8 74.4,805.6 77.8,804.9 C81.2,804.2 86.6,803.4 92.4,802.9 C98.2,802.4 104.5,802.2 112.7,802.0 C120.9,801.8 132.1,801.5 141.8,801.4 C151.5,801.2 163.7,801.2 170.9,801.1 C178.1,801.0 181.2,801.0 185.0,800.8 C188.8,800.6 191.1,800.7 193.7,800.0 C196.2,799.3 198.5,798.5 200.3,796.7 C202.1,794.9 203.2,791.5 204.6,789.1 C206.0,786.7 207.5,784.0 209.0,782.5 C210.5,781.0 212.0,780.6 213.4,780.4 C214.8,780.1 216.2,780.9 217.7,781.0 C219.1,781.1 220.6,781.5 222.1,781.0 C223.6,780.5 224.9,779.4 226.5,778.2 C228.1,777.0 230.1,776.2 231.9,773.8 C233.7,771.4 235.8,766.6 237.4,764.0 C239.0,761.4 240.2,759.2 241.7,757.9 C243.1,756.6 244.6,756.4 246.1,756.4 C247.6,756.4 248.7,756.6 250.5,757.9 C252.3,759.2 254.8,761.7 257.0,764.0 C259.2,766.3 261.1,768.9 263.6,771.6 C266.2,774.3 269.4,778.0 272.3,780.4 C275.2,782.8 278.1,784.2 281.0,785.8 C283.9,787.4 286.8,788.5 289.7,789.9 C292.6,791.3 295.0,792.8 298.7,794.0 C302.4,795.2 307.1,796.7 311.8,797.3 C316.5,797.9 322.0,797.7 327.1,797.7 C332.2,797.7 338.0,797.8 342.4,797.3 C346.8,796.8 349.7,795.8 353.3,794.7 C356.9,793.6 360.6,791.8 364.2,790.7 C367.8,789.6 372.2,788.5 375.1,788.1 C378.0,787.7 378.7,788.0 381.6,788.1 C384.5,788.2 389.0,788.5 392.6,789.0 C396.2,789.5 400.4,790.7 403.5,791.2 C406.6,791.8 408.2,792.0 411.4,792.3 C414.6,792.6 418.9,792.8 422.7,793.2 C426.5,793.6 430.3,794.1 434.1,794.5 C437.9,794.9 441.7,795.5 445.5,795.5 C449.3,795.5 453.0,794.9 456.8,794.5 C460.6,794.1 464.4,793.3 468.2,793.2 C472.0,793.1 476.1,793.8 479.5,793.9 C482.9,794.0 485.9,793.4 488.6,793.9 C491.3,794.4 493.4,795.7 495.5,796.8 C497.6,797.9 499.2,799.7 501.1,800.7 C503.0,801.7 504.7,802.8 506.8,803.0 C508.9,803.2 511.7,802.3 513.6,801.8 C515.5,801.3 517.4,800.3 518.2,800.0" fill="none" stroke="#4a4a4a" stroke-width="2.7" stroke-linejoin="round" stroke-linecap="round"/>
<path d="M224.2,481.8 L224.2,800.0" fill="none" stroke="#000" stroke-width="2.6" stroke-dasharray="3.6 10.7" stroke-dashoffset="0"/>
<path d="M245.5,491.4 L245.5,795.0" fill="none" stroke="#000" stroke-width="2.6" stroke-dasharray="3.6 10.7" stroke-dashoffset="0"/>
<path d="M380.7,527.5 L380.7,802.0" fill="none" stroke="#000" stroke-width="2.6" stroke-dasharray="3.6 10.7" stroke-dashoffset="0"/>
<rect x="40.5" y="466.4" width="479.2" height="351.9" fill="none" stroke="#000" stroke-width="2.8"/>
<line x1="40.5" y1="818.2" x2="40.5" y2="812.2" stroke="#000" stroke-width="2"/>
<text x="0.0" y="0.0" font-size="23" text-anchor="middle" transform="translate(40.5,845) scale(1,1.09)">2400</text>
<line x1="100.4" y1="818.2" x2="100.4" y2="814.7" stroke="#000" stroke-width="2"/>
<line x1="160.3" y1="818.2" x2="160.3" y2="812.2" stroke="#000" stroke-width="2"/>
<text x="0.0" y="0.0" font-size="23" text-anchor="middle" transform="translate(160.3,845) scale(1,1.09)">2200</text>
<line x1="220.2" y1="818.2" x2="220.2" y2="814.7" stroke="#000" stroke-width="2"/>
<line x1="280.1" y1="818.2" x2="280.1" y2="812.2" stroke="#000" stroke-width="2"/>
<text x="0.0" y="0.0" font-size="23" text-anchor="middle" transform="translate(280.1,845) scale(1,1.09)">2000</text>
<line x1="340.0" y1="818.2" x2="340.0" y2="814.7" stroke="#000" stroke-width="2"/>
<line x1="399.9" y1="818.2" x2="399.9" y2="812.2" stroke="#000" stroke-width="2"/>
<text x="0.0" y="0.0" font-size="23" text-anchor="middle" transform="translate(399.9,845) scale(1,1.09)">1800</text>
<line x1="459.8" y1="818.2" x2="459.8" y2="814.7" stroke="#000" stroke-width="2"/>
<line x1="519.7" y1="818.2" x2="519.7" y2="812.2" stroke="#000" stroke-width="2"/>
<text x="0.0" y="0.0" font-size="23" text-anchor="middle" transform="translate(519.7,845) scale(1,1.09)">1600</text>
<text x="183" y="872.2" font-size="23">Wavenumber(cm<tspan font-size="14" dy="-9" dx="0.8">−</tspan><tspan font-size="14" dx="1.2">1</tspan><tspan dy="9" dx="-0.5">)</tspan></text>
<text x="0.0" y="0.0" font-size="23.2" text-anchor="middle" transform="translate(23.7,643) rotate(-90)">Intensity(a.u.)</text>
<text x="44.4" y="563.8" font-size="18">Pt/TiO<tspan font-size="13" dy="4">2</tspan><tspan dy="-4">(800 °C)</tspan></text>
<text x="44.4" y="618.0" font-size="18">Pt/TiO<tspan font-size="13" dy="4">2</tspan><tspan dy="-4">(700 °C)</tspan></text>
<text x="44.4" y="668.6" font-size="18">Pt/TiO<tspan font-size="13" dy="4">2</tspan><tspan dy="-4">(600 °C)</tspan></text>
<text x="44.4" y="719.4" font-size="18">Pt/TiO<tspan font-size="13" dy="4">2</tspan><tspan dy="-4">(550 °C)</tspan></text>
<text x="44.4" y="754.4" font-size="18">Pt/TiO<tspan font-size="13" dy="4">2</tspan><tspan dy="-4">(500 °C)</tspan></text>
<text x="44.4" y="792.2" font-size="18">Pt/TiO<tspan font-size="13" dy="4">2</tspan><tspan dy="-4">(400 °C)</tspan></text>
<text x="113" y="493.6" font-size="16">CO-Pt<tspan font-size="11.5" dy="5">OX</tspan></text>
<text x="260.7" y="483.3" font-size="16">CO-Pt<tspan font-size="13" dy="5">1</tspan></text>
<text x="288.1" y="509.2" font-size="16">linear CO-Pt<tspan font-size="11" dy="5">NPs</tspan></text>
<text x="402.6" y="531" font-size="16">bridge CO-Pt<tspan font-size="11" dy="5">NPs</tspan></text>
<line x1="173.6" y1="499.6" x2="195.4" y2="507.3" stroke="#000" stroke-width="1.6"/><path d="M202.0,509.6 L192.4,509.6 L194.6,503.6 Z" fill="#000"/>
<line x1="254.0" y1="474.6" x2="230.2" y2="483.5" stroke="#000" stroke-width="1.6"/><path d="M223.6,485.9 L230.9,479.8 L233.2,485.8 Z" fill="#000"/>
<line x1="286.0" y1="508.0" x2="255.7" y2="499.6" stroke="#000" stroke-width="1.6"/><path d="M249.0,497.7 L258.5,497.0 L256.8,503.2 Z" fill="#000"/>
<line x1="423.8" y1="534.7" x2="389.9" y2="543.7" stroke="#000" stroke-width="1.6"/><path d="M383.1,545.5 L391.0,540.1 L392.6,546.3 Z" fill="#000"/>
</svg>
</body></html>
